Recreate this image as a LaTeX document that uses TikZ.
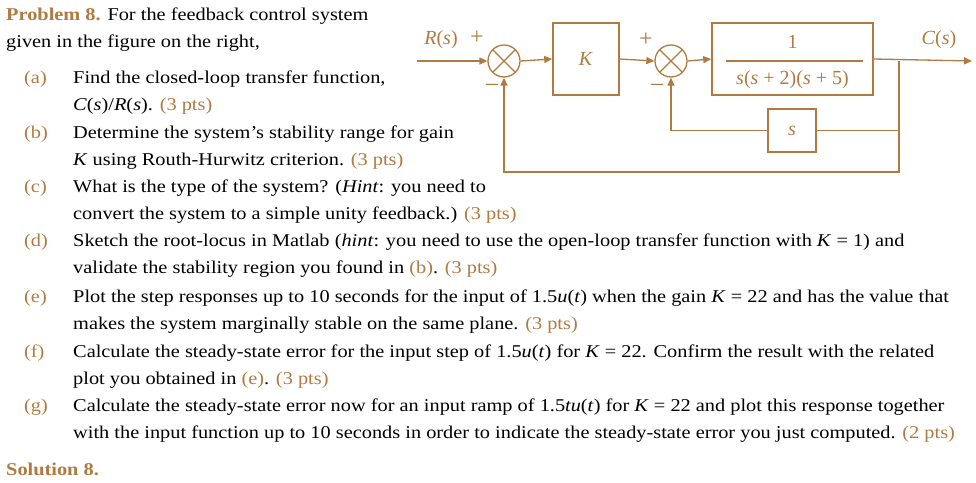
\documentclass[tikz,border=0pt]{standalone}
\usepackage{fontspec}
\setmainfont{Liberation Serif}[FakeStretch=1.13]
\newfontfamily\labfont{Liberation Serif}
\usetikzlibrary{arrows.meta}
\definecolor{br}{HTML}{B07A40}
\newcommand{\mi}[1]{\textit{#1}}
\begin{document}
\begin{tikzpicture}[x=1pt,y=-1pt,
  wire/.style={draw=br,line width=1.3pt},
  arr/.style={wire,-{Triangle[length=8pt,width=7pt]}},
  blk/.style={draw=br,line width=1.6pt,inner sep=0pt},
  sumc/.style={circle,draw=br,line width=1.3pt,minimum size=32pt,inner sep=0pt,path picture={\draw[br,line width=1.3pt] (path picture bounding box.south west)--(path picture bounding box.north east) (path picture bounding box.north west)--(path picture bounding box.south east);}},
  lab/.style={text=br,font=\labfont\fontsize{20}{22}\selectfont},
  sgn/.style={text=br,font=\labfont\fontsize{24}{26}\selectfont},
  tx/.style={anchor=base west,inner sep=0pt,font=\fontsize{18}{20}\selectfont}]
\useasboundingbox (0,0) rectangle (976,482);
% diagram
\node[sumc] (s1) at (504,61) {};
\node[blk,minimum width=66pt,minimum height=72pt] (k) at (586,59) {};
\node[lab] at (k) {\mi{K}};
\node[sumc] (s2) at (671,61) {};
\node[blk,minimum width=161pt,minimum height=72pt] (g) at (792.5,59) {};
\node[lab] (num) at (792.5,42) {1};
\node[lab] (den) at (792.5,80) {\mi{s}(\mi{s} + 2)(\mi{s} + 5)};
\draw[br,line width=1.3pt] (726,61)--(863,61);
\node[blk,minimum width=48pt,minimum height=43pt] (h) at (792,130.5) {};
\node[lab] at (h) {\mi{s}};
\coordinate (r) at (417,61);
\coordinate (b) at (899,61);
\coordinate (o) at (972,61);
\draw[arr] (r)--(s1.west);
\draw[arr] (s1.east)--(k.west);
\draw[arr] (k.east)--(s2.west);
\draw[arr] (s2.east)--(g.west);
\draw[arr] (g.east)--(o);
\draw[wire] (b)|-(h.east);
\draw[arr] (h.west)-|(s2.south);
\draw[arr] (b)|-(512,172)-|(s1.south);
\node[lab] at (441,40) {\mi{R}(\mi{s})};
\node[sgn] at (477,38) {+};
\node[sgn] at (492,87) {–};
\node[sgn] at (646,40) {+};
\node[sgn] at (657,87) {–};
\node[lab] at (939,40) {\mi{C}(\mi{s})};
% text
\node[tx] at (6,20) {\textcolor{br}{\textbf{Problem 8.}} For the feedback control system};
\node[tx] at (6,47) {given in the figure on the right,};
\node[tx,text=br] at (24,83) {(a)};
\node[tx] at (73,83) {Find the closed-loop transfer function,};
\node[tx] at (73,110) {\mi{C}(\mi{s})/\mi{R}(\mi{s}). \textcolor{br}{(3 pts)}};
\node[tx,text=br] at (24,138) {(b)};
\node[tx] at (73,138) {Determine the system's stability range for gain};
\node[tx] at (73,165) {\mi{K} using Routh-Hurwitz criterion. \textcolor{br}{(3 pts)}};
\node[tx,text=br] at (24,192) {(c)};
\node[tx] at (73,192) {What is the type of the system? (\mi{Hint}: you need to};
\node[tx] at (73,219) {convert the system to a simple unity feedback.) \textcolor{br}{(3 pts)}};
\node[tx,text=br] at (24,246) {(d)};
\node[tx] at (73,246) {Sketch the root-locus in Matlab (\mi{hint}: you need to use the open-loop transfer function with \mi{K} = 1) and};
\node[tx] at (73,273) {validate the stability region you found in \textcolor{br}{(b)}. \textcolor{br}{(3 pts)}};
\node[tx,text=br] at (24,302) {(e)};
\node[tx] at (73,302) {Plot the step responses up to 10 seconds for the input of 1.5\mi{u}(\mi{t}) when the gain \mi{K} = 22 and has the value that};
\node[tx] at (73,329) {makes the system marginally stable on the same plane. \textcolor{br}{(3 pts)}};
\node[tx,text=br] at (24,357) {(f)};
\node[tx] at (73,357) {Calculate the steady-state error for the input step of 1.5\mi{u}(\mi{t}) for \mi{K} = 22. Confirm the result with the related};
\node[tx] at (73,384) {plot you obtained in \textcolor{br}{(e)}. \textcolor{br}{(3 pts)}};
\node[tx,text=br] at (24,411) {(g)};
\node[tx] at (73,411) {Calculate the steady-state error now for an input ramp of 1.5\mi{tu}(\mi{t}) for \mi{K} = 22 and plot this response together};
\node[tx] at (73,438) {with the input function up to 10 seconds in order to indicate the steady-state error you just computed. \textcolor{br}{(2 pts)}};
\node[tx,text=br] at (6,475) {\textbf{Solution 8.}};
\end{tikzpicture}
\end{document}
